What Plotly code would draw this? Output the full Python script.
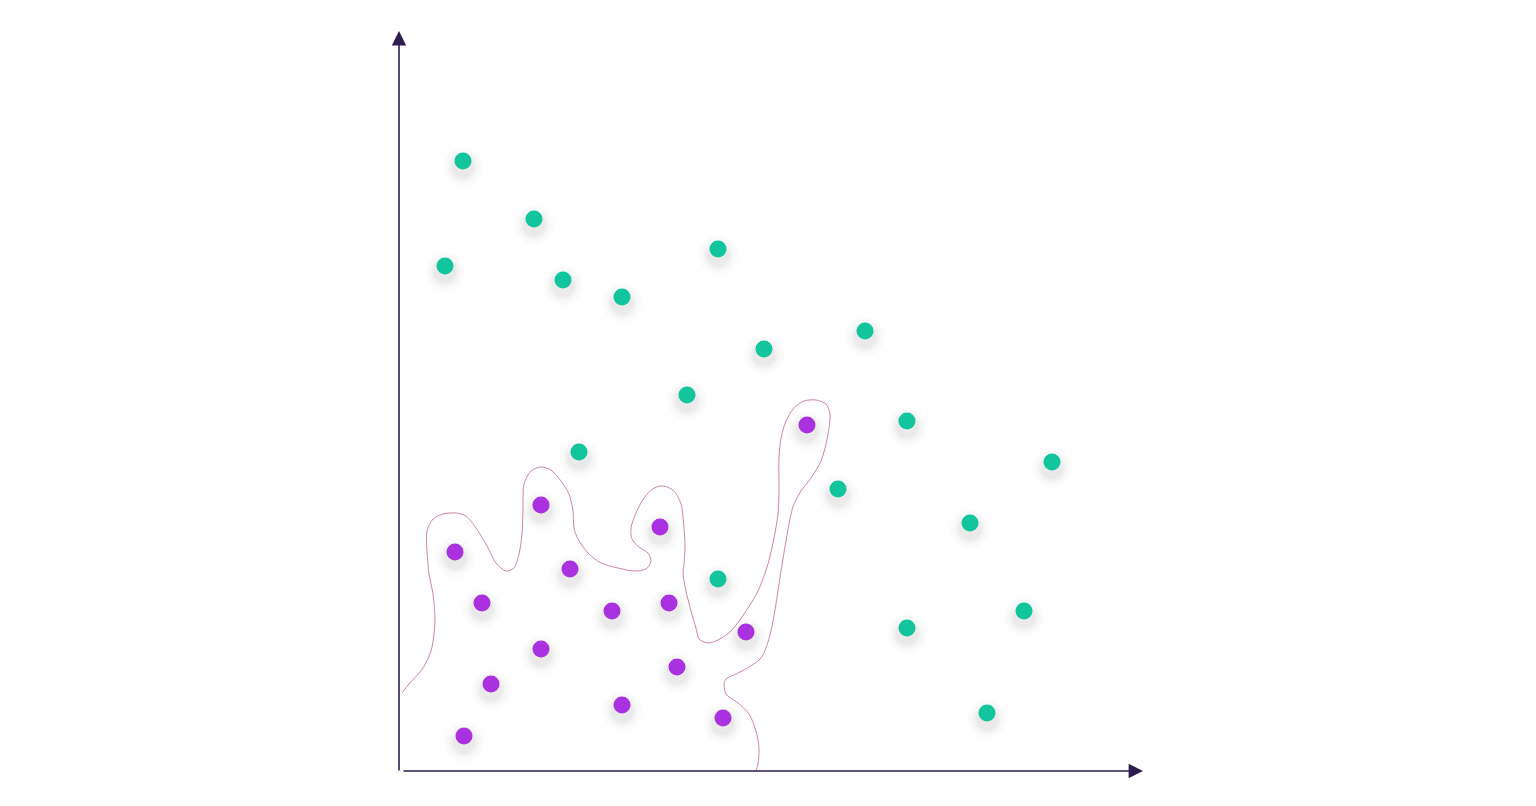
import plotly.graph_objects as go

# Class A (green) points
green_x = [64, 135, 46, 164, 319, 223, 365, 466, 288, 508, 180, 653, 439, 571, 319, 625, 508, 588]
green_y = [610, 552, 505, 491, 522, 474, 422, 440, 376, 350, 319, 309, 282, 248, 192, 160, 143, 58]

# Class B (purple) points
purple_x = [408, 142, 261, 56, 171, 83, 213, 270, 347, 142, 278, 92, 223, 324, 65]
purple_y = [346, 266, 244, 219, 202, 168, 160, 168, 139, 122, 104, 87, 66, 53, 35]

# Decision boundary
boundary_x = [3, 10, 24, 32, 35, 36, 34, 30, 28, 28, 34, 44, 57, 67, 77, 87, 97, 107, 115, 120, 123, 124,
              125, 132, 142, 152, 162, 170, 174, 175, 179, 189, 202, 219, 235, 247, 252, 249, 240, 233, 232,
              237, 245, 255, 265, 275, 282, 285, 286, 285, 284, 287, 292, 297, 300, 309, 319, 332, 345, 359,
              369, 375, 379, 380, 380, 382, 387, 395, 405, 417, 427, 431, 430, 427, 422, 412, 402, 395, 392,
              387, 382, 377, 372, 367, 362, 352, 339, 327, 325, 327, 339, 350, 357, 360, 359, 356]
boundary_y = [78, 87, 103, 120, 137, 153, 177, 197, 220, 240, 252, 257, 258, 255, 243, 227, 208, 200, 203,
              217, 237, 260, 287, 300, 304, 301, 290, 277, 260, 243, 232, 218, 208, 203, 200, 202, 210, 218,
              224, 232, 243, 258, 273, 283, 285, 280, 267, 243, 223, 207, 198, 180, 160, 143, 132, 128, 131,
              140, 157, 180, 207, 233, 257, 277, 313, 333, 350, 363, 370, 371, 367, 357, 343, 327, 310, 293,
              280, 267, 257, 230, 200, 167, 140, 123, 113, 105, 98, 92, 87, 77, 68, 57, 40, 23, 7, -2]

AXIS_COLOR = "#2d1d50"
GREEN = "#13c59d"
PURPLE = "#aa31e0"

fig = go.Figure()

# soft, diffuse drop shadows under the points
all_x = green_x + purple_x
all_y = green_y + purple_y
for size, op in [(40, 0.018), (35, 0.022), (30, 0.03), (26, 0.035), (22, 0.04)]:
    fig.add_trace(go.Scatter(
        x=all_x, y=[v - 6 for v in all_y], mode="markers",
        marker=dict(size=size, color="#707070", opacity=op, line=dict(width=0)),
        hoverinfo="skip", showlegend=False))

fig.add_trace(go.Scatter(
    x=boundary_x, y=boundary_y, mode="lines",
    line=dict(color="#d283a3", width=1, shape="spline", smoothing=0.8),
    hoverinfo="skip", showlegend=False))

fig.add_trace(go.Scatter(
    x=green_x, y=green_y, mode="markers",
    marker=dict(size=17, color=GREEN, line=dict(width=0)),
    showlegend=False))
fig.add_trace(go.Scatter(
    x=purple_x, y=purple_y, mode="markers",
    marker=dict(size=17, color=PURPLE, line=dict(width=0)),
    showlegend=False))

# axes with arrowheads
fig.add_annotation(x=0, y=740, ax=0, ay=-1, xref="x", yref="y", axref="x", ayref="y",
                   text="", showarrow=True, arrowhead=2, arrowsize=1.8, arrowwidth=1.6,
                   arrowcolor=AXIS_COLOR)
fig.add_annotation(x=744, y=0, ax=3, ay=0, xref="x", yref="y", axref="x", ayref="y",
                   text="", showarrow=True, arrowhead=2, arrowsize=1.8, arrowwidth=1.6,
                   arrowcolor=AXIS_COLOR)

fig.update_xaxes(range=[0, 744], visible=False, fixedrange=True)
fig.update_yaxes(range=[0, 740], visible=False, fixedrange=True)
fig.update_layout(
    width=1536, height=806,
    margin=dict(l=391, r=401, t=23, b=43),
    plot_bgcolor="white", paper_bgcolor="white",
    showlegend=False,
)

fig.write_html("out.html")
